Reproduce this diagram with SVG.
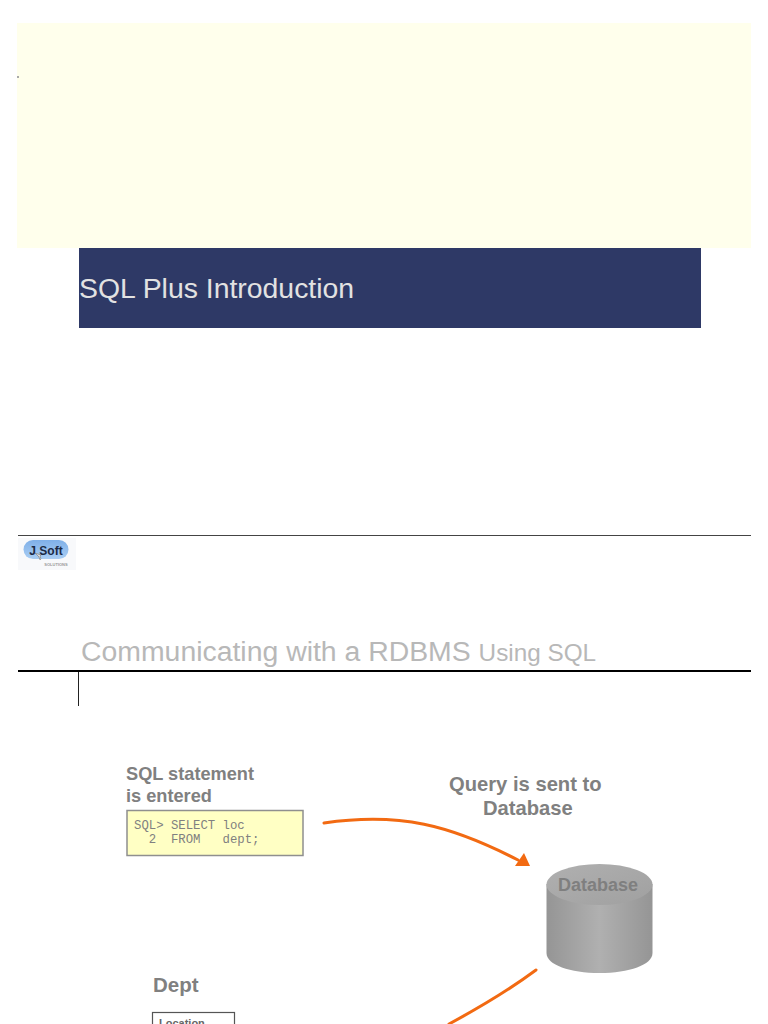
<svg xmlns="http://www.w3.org/2000/svg" width="768" height="1024" viewBox="0 0 768 1024">
<style>
.s{font-family:"Liberation Sans",Arial,sans-serif}
.b{font-weight:bold;fill:#808080}
.m{font-family:"Liberation Mono","Courier New",monospace;font-size:12.300px;fill:#808080}
.c{fill:none;stroke:#f26a12;stroke-width:3;stroke-linecap:round}
</style>
<defs>
<linearGradient id="cyl" x1="0" x2="1" y1="0" y2="0">
<stop offset="0" stop-color="#959595"/><stop offset=".5" stop-color="#b0b0b0"/><stop offset="1" stop-color="#959595"/>
</linearGradient>
<linearGradient id="top" x1="0" x2="1" y1="0" y2="1">
<stop offset="0" stop-color="#b0b0b0"/><stop offset="1" stop-color="#a0a0a0"/>
</linearGradient>
<linearGradient id="logo" x1="0" x2="0" y1="0" y2="1">
<stop offset="0" stop-color="#7fb0e8"/><stop offset="1" stop-color="#a9cdf3"/>
</linearGradient>
</defs>
<rect width="768" height="1024" fill="#fff"/>
<rect x="17" y="23" width="734" height="225" fill="#ffffec"/>
<rect x="17" y="76" width="2" height="2" fill="#aaa"/>
<g id="title-banner">
<rect x="79" y="248" width="622" height="80" fill="#2e3966"/>
<text class="s" x="79" y="298" font-size="28.400" fill="#e2e2e2">SQL Plus Introduction</text>
</g>
<rect x="18" y="535" width="733" height="1" fill="#444"/>
<g id="logo-mark">
<rect x="18" y="538" width="58" height="32" fill="#f8f9fb"/>
<rect x="23.500" y="540" width="45" height="19" rx="9.500" fill="url(#logo)"/>
<text class="s" x="46" y="555" font-size="12" font-weight="bold" fill="#1b2a44" text-anchor="middle">J Soft</text>
<text class="s" x="56" y="566" font-size="4" font-weight="bold" fill="#999" text-anchor="middle">SOLUTIONS</text>
<path d="M35 553l4 4 1 3 1-1-1-3 1-1z" fill="#ddd" stroke="#777" stroke-width=".6"/>
</g>
<text class="s" x="81" y="661" font-size="28.400" fill="#b8b8b8">Communicating with a RDBMS <tspan font-size="24.300">Using SQL</tspan></text>
<rect x="18" y="670" width="733" height="2" fill="#000"/>
<rect x="78" y="672" width="1" height="34" fill="#222"/>
<g id="statement">
<text class="s b" x="126" y="780" font-size="18.200">SQL statement</text>
<text class="s b" x="126" y="802" font-size="18.200">is entered</text>
<rect x="127" y="810.500" width="176" height="45" fill="#ffffc4" stroke="#8f8f8f" stroke-width="1.500"/>
<text class="m" xml:space="preserve" x="134" y="829">SQL&gt; SELECT loc</text>
<text class="m" xml:space="preserve" x="134" y="843">  2  FROM   dept;</text>
</g>
<g id="query-label">
<text class="s b" x="449" y="791" font-size="20.200">Query is sent to</text>
<text class="s b" x="483" y="815" font-size="20.200">Database</text>
</g>
<g id="connectors">
<path class="c" d="M324 823C400 812 450 825 518 860"/>
<path d="M530 866L515 866 524 853z" fill="#f26a12"/>
<path class="c" d="M536 970C505 993 475 1010 449 1024"/>
</g>
<g id="database">
<path d="M546.500 884V953C546.500 965 570 973 599.500 973S652.500 965 652.500 953V884z" fill="url(#cyl)"/>
<ellipse cx="599.500" cy="884.500" rx="53" ry="20.500" fill="url(#top)"/>
<text class="s" x="598" y="891" font-size="18" font-weight="bold" fill="#7f7f7f" text-anchor="middle">Database</text>
</g>
<g id="dept">
<text class="s b" x="153" y="992" font-size="20.500">Dept</text>
<rect x="152.500" y="1012.500" width="82" height="30" fill="#fff" stroke="#555" stroke-width="1.200"/>
<text class="s" x="159" y="1027" font-size="11" font-weight="bold" fill="#666">Location</text>
</g>
</svg>
